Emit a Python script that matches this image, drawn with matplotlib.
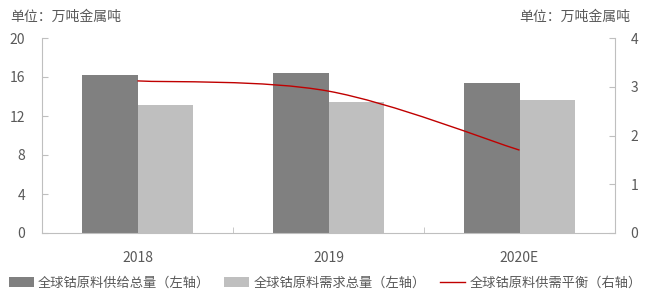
import matplotlib
matplotlib.use("Agg")
import matplotlib.pyplot as plt
from matplotlib.path import Path
from matplotlib.patches import PathPatch, Patch
from matplotlib.lines import Line2D
import numpy as np

plt.rcParams['font.family'] = ['Noto Sans CJK SC', 'DejaVu Sans']

categories = ["2018", "2019", "2020E"]
supply = [16.2, 16.4, 15.4]
demand = [13.1, 13.4, 13.6]
balance = [3.12, 2.91, 1.70]
left_ticks = [0, 4, 8, 12, 16, 20]
right_ticks = [0, 1, 2, 3, 4]
unit_label = "单位：万吨金属吨"
legend_labels = ["全球钴原料供给总量（左轴）", "全球钴原料需求总量（左轴）", "全球钴原料供需平衡（右轴）"]

c_dark = "#808080"
c_light = "#BFBFBF"
c_line = "#C00000"
c_text = "#595959"
c_spine = "#BFBFBF"

fig = plt.figure(figsize=(6.5, 3.03), dpi=100)
ax = fig.add_axes([42/650, 1-233/303, (615-42)/650, (233-38)/303])
ax2 = ax.twinx()

x = np.arange(len(categories))
w = 0.288
ax.bar(x - w/2, supply, w, color=c_dark, zorder=2)
ax.bar(x + w/2, demand, w, color=c_light, zorder=2)

ax.set_xlim(-0.5, 2.5)
ax.set_ylim(0, 20)
ax2.set_ylim(0, 4)
ax.set_yticks(left_ticks)
ax2.set_yticks(right_ticks)
ax.set_xticks(x)
ax.set_xticklabels(categories)
ax.set_xticks([0.5, 1.5], minor=True)

# smooth (Bezier) line through the balance points
pts = np.column_stack([x, balance]).astype(float)
n = len(pts)
verts = [tuple(pts[0])]
codes = [Path.MOVETO]
for i in range(n - 1):
    p0 = pts[i - 1] if i > 0 else pts[i]
    p1 = pts[i]
    p2 = pts[i + 1]
    p3 = pts[i + 2] if i + 2 < n else pts[i + 1]
    c1 = p1 + (p2 - p0) / 6
    c2 = p2 - (p3 - p1) / 6
    verts += [tuple(c1), tuple(c2), tuple(p2)]
    codes += [Path.CURVE4] * 3
ax2.add_patch(PathPatch(Path(verts, codes), facecolor="none", edgecolor=c_line, lw=1.0, zorder=3))

for a in (ax, ax2):
    for s in a.spines.values():
        s.set_color(c_spine)
    a.spines['top'].set_visible(False)
ax.spines['right'].set_visible(False)
ax2.spines['left'].set_visible(False)
ax2.spines['bottom'].set_visible(False)

ax.tick_params(axis='y', direction='in', length=4, color=c_spine, labelcolor=c_text, labelsize=10, pad=12)
ax2.tick_params(axis='y', direction='in', length=4, color=c_spine, labelcolor=c_text, labelsize=10, pad=11)
ax.tick_params(axis='x', which='major', length=0, labelcolor=c_text, labelsize=10, pad=13)
ax.tick_params(axis='x', which='minor', direction='in', length=4, color=c_spine)
for lab in ax.get_yticklabels():
    lab.set_horizontalalignment('right')

fig.text(10/650, 1-17/303, unit_label, ha='left', va='center', fontsize=10, color=c_text)
fig.text(630/650, 1-17/303, unit_label, ha='right', va='center', fontsize=10, color=c_text)

handles = [Patch(facecolor=c_dark, edgecolor='none'),
           Patch(facecolor=c_light, edgecolor='none'),
           Line2D([0], [0], color=c_line, lw=1.0)]
fig.legend(handles, legend_labels, loc='center', bbox_to_anchor=(0.5, 1-283/303), ncol=3,
           frameon=False, fontsize=9.5, labelcolor=c_text, handlelength=1.9, handleheight=0.7,
           handletextpad=0.3, columnspacing=1.1, borderaxespad=0, borderpad=0)

fig.savefig("out.png", dpi=100)
